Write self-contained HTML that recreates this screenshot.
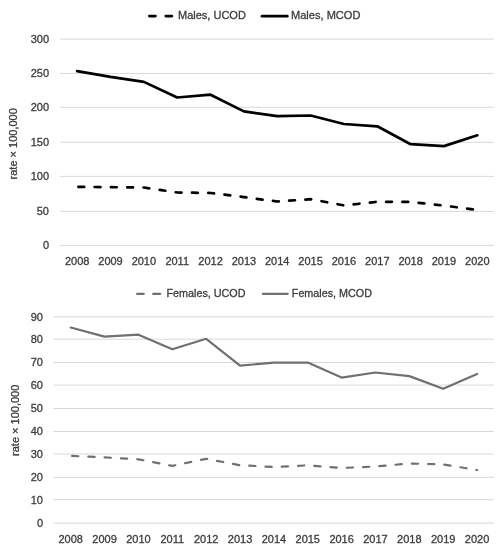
<!DOCTYPE html>
<html><head><meta charset="utf-8"><title>Chart</title>
<style>html,body{margin:0;padding:0;background:#fff;width:503px;height:550px;overflow:hidden}svg{display:block}</style>
</head><body>
<svg width="503" height="550" viewBox="0 0 503 550">
<rect width="503" height="550" fill="#fff"/>
<path d="M60,245.40H494.0M60,211.40H494.0M60,176.40H494.0M60,142.30H494.0M60,107.30H494.0M60,73.45H494.0M60,39.10H494.0M53.3,523.10H494.0M53.3,499.70H494.0M53.3,477.30H494.0M53.3,454.00H494.0M53.3,431.50H494.0M53.3,408.50H494.0M53.3,385.05H494.0M53.3,362.50H494.0M53.3,339.20H494.0M53.3,316.80H494.0" stroke="#d9d9d9" stroke-width="1" fill="none"/>
<g font-family="'Liberation Sans', sans-serif" font-size="11" fill="#3c3c3c" stroke="#3c3c3c" stroke-width="0.3"><text x="49" y="249.30" text-anchor="end">0</text><text x="49" y="215.30" text-anchor="end">50</text><text x="49" y="180.30" text-anchor="end">100</text><text x="49" y="146.20" text-anchor="end">150</text><text x="49" y="111.20" text-anchor="end">200</text><text x="49" y="77.35" text-anchor="end">250</text><text x="49" y="43.00" text-anchor="end">300</text><text x="43" y="527.00" text-anchor="end">0</text><text x="43" y="503.60" text-anchor="end">10</text><text x="43" y="481.20" text-anchor="end">20</text><text x="43" y="457.90" text-anchor="end">30</text><text x="43" y="435.40" text-anchor="end">40</text><text x="43" y="412.40" text-anchor="end">50</text><text x="43" y="388.95" text-anchor="end">60</text><text x="43" y="366.40" text-anchor="end">70</text><text x="43" y="343.10" text-anchor="end">80</text><text x="43" y="320.70" text-anchor="end">90</text><text x="77.17" y="265.3" text-anchor="middle">2008</text><text x="70.73" y="543" text-anchor="middle">2008</text><text x="110.52" y="265.3" text-anchor="middle">2009</text><text x="104.59" y="543" text-anchor="middle">2009</text><text x="143.87" y="265.3" text-anchor="middle">2010</text><text x="138.45" y="543" text-anchor="middle">2010</text><text x="177.21" y="265.3" text-anchor="middle">2011</text><text x="172.32" y="543" text-anchor="middle">2011</text><text x="210.56" y="265.3" text-anchor="middle">2012</text><text x="206.18" y="543" text-anchor="middle">2012</text><text x="243.90" y="265.3" text-anchor="middle">2013</text><text x="240.04" y="543" text-anchor="middle">2013</text><text x="277.25" y="265.3" text-anchor="middle">2014</text><text x="273.90" y="543" text-anchor="middle">2014</text><text x="310.60" y="265.3" text-anchor="middle">2015</text><text x="307.76" y="543" text-anchor="middle">2015</text><text x="343.94" y="265.3" text-anchor="middle">2016</text><text x="341.62" y="543" text-anchor="middle">2016</text><text x="377.29" y="265.3" text-anchor="middle">2017</text><text x="375.48" y="543" text-anchor="middle">2017</text><text x="410.63" y="265.3" text-anchor="middle">2018</text><text x="409.35" y="543" text-anchor="middle">2018</text><text x="443.98" y="265.3" text-anchor="middle">2019</text><text x="443.21" y="543" text-anchor="middle">2019</text><text x="477.33" y="265.3" text-anchor="middle">2020</text><text x="477.07" y="543" text-anchor="middle">2020</text><text x="178" y="19.4">Males, UCOD</text><text x="291" y="19.4" textLength="69.4" lengthAdjust="spacingAndGlyphs">Males, MCOD</text><text x="166.5" y="297.2" textLength="79.0" lengthAdjust="spacingAndGlyphs">Females, UCOD</text><text x="291.8" y="297.2" textLength="80.2" lengthAdjust="spacingAndGlyphs">Females, MCOD</text><text transform="translate(17.2,143.8) rotate(-90)" text-anchor="middle">rate × 100,000</text><text transform="translate(18.8,420.3) rotate(-90)" text-anchor="middle">rate × 100,000</text></g>
<path d="M149.4,16.1H155.4M165.8,16.1H171.9" stroke="#000" stroke-width="2.7" stroke-linecap="round" fill="none"/>
<path d="M262,16.2H287.3" stroke="#000" stroke-width="2.7" stroke-linecap="round" fill="none"/>
<path d="M137.1,293.8H143.8M153.2,293.8H160.2" stroke="#707070" stroke-width="2.2" stroke-linecap="round" fill="none"/>
<path d="M262.9,293.8H287.7" stroke="#707070" stroke-width="2.2" stroke-linecap="round" fill="none"/>
<polyline points="77.17,71.10 110.52,76.90 143.87,81.90 177.21,97.50 210.56,94.70 243.90,111.40 277.25,116.20 310.60,115.50 343.94,124.00 377.29,126.30 410.63,144.20 443.98,146.10 477.33,135.30" stroke="#000" stroke-width="2.7" fill="none" stroke-linecap="round" stroke-linejoin="round"/>
<polyline points="77.17,186.80 110.52,187.20 143.87,187.50 177.21,192.50 210.56,193.00 243.90,197.10 277.25,201.50 310.60,199.20 343.94,205.40 377.29,201.80 410.63,201.90 443.98,205.60 477.33,210.00" stroke="#000" stroke-width="2.7" fill="none" stroke-dasharray="5.8 10.49" stroke-dashoffset="-1.19" stroke-linecap="round" stroke-linejoin="round"/>
<polyline points="70.73,327.50 104.59,336.60 138.45,334.70 172.32,349.20 206.18,338.80 240.04,365.60 273.90,362.70 307.76,362.60 341.62,377.60 375.48,372.50 409.35,376.10 443.21,388.80 477.07,373.90" stroke="#707070" stroke-width="2.2" fill="none" stroke-linecap="round" stroke-linejoin="round"/>
<polyline points="70.73,455.90 104.59,457.40 138.45,459.30 172.32,465.90 206.18,458.80 240.04,465.20 273.90,467.00 307.76,465.30 341.62,468.00 375.48,466.50 409.35,463.50 443.21,464.40 477.07,470.00" stroke="#707070" stroke-width="2.2" fill="none" stroke-dasharray="6.3 9.99" stroke-dashoffset="-1.34" stroke-linecap="round" stroke-linejoin="round"/>
</svg>
</body></html>
